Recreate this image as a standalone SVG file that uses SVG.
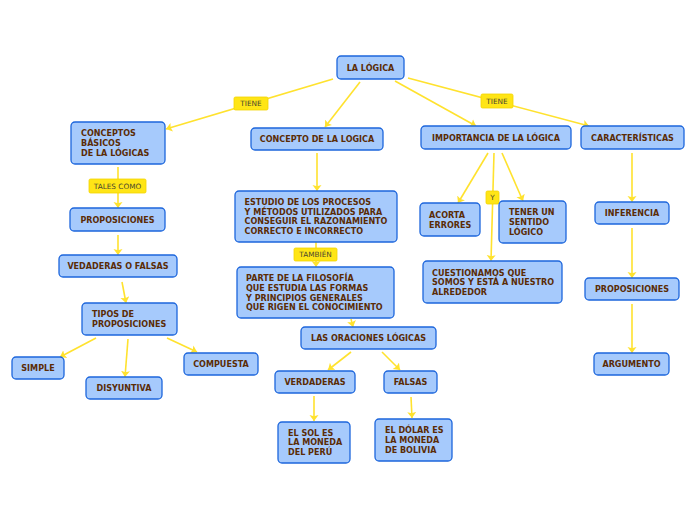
<svg xmlns="http://www.w3.org/2000/svg" width="696" height="520" viewBox="0 0 696 520">
<defs>
<style>
.n rect{fill:#a6cafc;stroke:#1d66dc;stroke-width:1.3}
.n text{font-family:"DejaVu Sans",Verdana,sans-serif;font-weight:bold;font-size:8.05px;fill:#5a2c06}
.c{text-anchor:middle}
.lb rect{fill:#ffe516;stroke:#f3d400;stroke-width:0.8}
.lb text{font-family:"DejaVu Sans",Verdana,sans-serif;font-size:7.3px;fill:#4a4630;text-anchor:middle}
#edges path{fill:none;stroke:#ffe22e;stroke-width:1.6;marker-end:url(#ah)}
</style>
<marker id="ah" markerUnits="userSpaceOnUse" markerWidth="10" markerHeight="10" refX="6" refY="4.5" orient="auto">
<path d="M0,0 L6,4.5 L0,9 L1.2,4.5 z" fill="#ffe22e"/>
</marker>
</defs>
<rect width="696" height="520" fill="#ffffff"/>
<g id="edges">
<path d="M333,79 L166,129"/>
<path d="M360,82 L325,127"/>
<path d="M395,81 L476,126"/>
<path d="M408,78 L589,126"/>
<path d="M118,167 L118,208"/>
<path d="M118,235 L118,255"/>
<path d="M122,282 L126,303"/>
<path d="M96,338 L60,357"/>
<path d="M128,339 L125,377"/>
<path d="M167,338 L197,352"/>
<path d="M317,153 L317,191"/>
<path d="M316,242 L316,267"/>
<path d="M351,319 L353,327"/>
<path d="M351,352 L328,370"/>
<path d="M382,352 L400,370"/>
<path d="M314,396 L314,421"/>
<path d="M411,397 L412,418"/>
<path d="M488,153 L458,203"/>
<path d="M502,153 L523,201"/>
<path d="M494,153 L491,261"/>
<path d="M632,153 L632,202"/>
<path d="M632,228 L632,278"/>
<path d="M632,304 L632,353"/>
</g>
<g id="labels">
<g class="lb" id="lb-tiene1"><rect x="234" y="97" width="34" height="13" rx="1.5"/><text x="251" y="106">TIENE</text></g>
<g class="lb" id="lb-tiene2"><rect x="481" y="94" width="32" height="14" rx="1.5"/><text x="497" y="104">TIENE</text></g>
<g class="lb" id="lb-tales"><rect x="89" y="179" width="57" height="14" rx="1.5"/><text x="117.5" y="188.5">TALES COMO</text></g>
<g class="lb" id="lb-tambien"><rect x="294" y="248" width="43" height="13" rx="1.5"/><text x="315.5" y="257">TAMBIÉN</text></g>
<g class="lb" id="lb-y"><rect x="486" y="191" width="13" height="13" rx="1.5"/><text x="492.5" y="200">Y</text></g>
</g>
<g class="n" id="n-logica"><rect x="337" y="56" width="67" height="23" rx="4"/><text class="c" x="370.5" y="70.5">LA LÓGICA</text></g>
<g class="n" id="n-conceptos"><rect x="71" y="122" width="94" height="42" rx="4"/><text x="81" y="136">CONCEPTOS</text><text x="81" y="146">BÁSICOS</text><text x="81" y="155.7">DE LA LÓGICAS</text></g>
<g class="n" id="n-concepto"><rect x="251" y="128" width="132" height="22" rx="4"/><text class="c" x="317" y="142">CONCEPTO DE LA LOGICA</text></g>
<g class="n" id="n-importancia"><rect x="421" y="126" width="150" height="23" rx="4"/><text class="c" x="496" y="140.5">IMPORTANCIA DE LA LÓGICA</text></g>
<g class="n" id="n-caracteristicas"><rect x="581" y="126" width="103" height="23" rx="4"/><text class="c" x="632.5" y="140.5">CARACTERÍSTICAS</text></g>
<g class="n" id="n-proposiciones1"><rect x="70" y="208" width="95" height="23" rx="4"/><text class="c" x="117.5" y="222.5">PROPOSICIONES</text></g>
<g class="n" id="n-vedaderas"><rect x="59" y="255" width="118" height="22" rx="4"/><text class="c" x="118" y="269">VEDADERAS O FALSAS</text></g>
<g class="n" id="n-tipos"><rect x="82" y="303" width="95" height="32" rx="4"/><text x="92" y="317.3">TIPOS DE</text><text x="92" y="326.7">PROPOSICIONES</text></g>
<g class="n" id="n-simple"><rect x="12" y="357" width="52" height="22" rx="4"/><text class="c" x="38" y="371">SIMPLE</text></g>
<g class="n" id="n-disyuntiva"><rect x="86" y="377" width="76" height="22" rx="4"/><text class="c" x="124" y="391">DISYUNTIVA</text></g>
<g class="n" id="n-compuesta"><rect x="184" y="353" width="74" height="22" rx="4"/><text class="c" x="221" y="367">COMPUESTA</text></g>
<g class="n" id="n-estudio"><rect x="235" y="191" width="162" height="51" rx="4"/><text x="244.5" y="205">ESTUDIO DE LOS PROCESOS</text><text x="244.5" y="214.5">Y MÉTODOS UTILIZADOS PARA</text><text x="244.5" y="224">CONSEGUIR EL RAZONAMIENTO</text><text x="244.5" y="233.5">CORRECTO E INCORRECTO</text></g>
<g class="n" id="n-parte"><rect x="237" y="267" width="157" height="51" rx="4"/><text x="246" y="281">PARTE DE LA FILOSOFÍA</text><text x="246" y="291">QUE ESTUDIA LAS FORMAS</text><text x="246" y="300.5">Y PRINCIPIOS GENERALES</text><text x="246" y="310">QUE RIGEN EL CONOCIMIENTO</text></g>
<g class="n" id="n-oraciones"><rect x="301" y="327" width="135" height="22" rx="4"/><text class="c" x="368.5" y="341">LAS ORACIONES LÓGICAS</text></g>
<g class="n" id="n-verdaderas"><rect x="275" y="371" width="80" height="22" rx="4"/><text class="c" x="315" y="385">VERDADERAS</text></g>
<g class="n" id="n-falsas"><rect x="384" y="371" width="53" height="22" rx="4"/><text class="c" x="410.5" y="385">FALSAS</text></g>
<g class="n" id="n-sol"><rect x="278" y="422" width="72" height="41" rx="4"/><text x="288" y="436">EL SOL ES</text><text x="288" y="445.3">LA MONEDA</text><text x="288" y="454.6">DEL PERÚ</text></g>
<g class="n" id="n-dolar"><rect x="375" y="419" width="77" height="42" rx="4"/><text x="385" y="433.3">EL DÓLAR ES</text><text x="385" y="443.3">LA MONEDA</text><text x="385" y="453.3">DE BOLIVIA</text></g>
<g class="n" id="n-acorta"><rect x="420" y="203" width="60" height="33" rx="4"/><text x="429" y="217.7">ACORTA</text><text x="429" y="227.7">ERRORES</text></g>
<g class="n" id="n-tener"><rect x="499" y="201" width="67" height="42" rx="4"/><text x="509" y="215">TENER UN</text><text x="509" y="225">SENTIDO</text><text x="509" y="235">LÓGICO</text></g>
<g class="n" id="n-cuestionamos"><rect x="423" y="261" width="139" height="42" rx="4"/><text x="432" y="276">CUESTIONAMOS QUE</text><text x="432" y="285.3">SOMOS Y ESTÁ A NUESTRO</text><text x="432" y="294.7">ALREDEDOR</text></g>
<g class="n" id="n-inferencia"><rect x="595" y="202" width="74" height="22" rx="4"/><text class="c" x="632" y="216">INFERENCIA</text></g>
<g class="n" id="n-proposiciones2"><rect x="585" y="278" width="94" height="22" rx="4"/><text class="c" x="632" y="292">PROPOSICIONES</text></g>
<g class="n" id="n-argumento"><rect x="594" y="353" width="75" height="22" rx="4"/><text class="c" x="631.5" y="367">ARGUMENTO</text></g>
</svg>
